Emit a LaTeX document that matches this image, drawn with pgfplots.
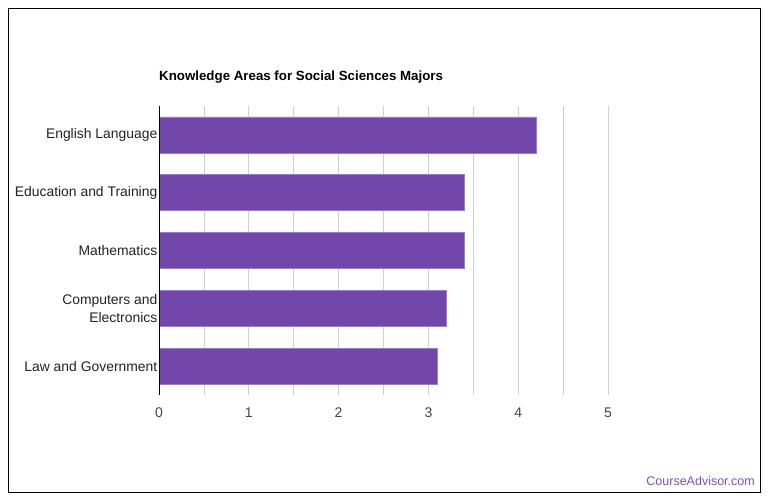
\documentclass[border=0pt]{standalone}
\usepackage{fontspec}
\setmainfont{Liberation Sans}
\usepackage{pgfplots}
\pgfplotsset{compat=1.18}
\definecolor{barfill}{HTML}{7247AB}
\definecolor{baredge}{HTML}{9B7CC6}
\definecolor{gridc}{HTML}{D0D0D0}
\definecolor{labc}{HTML}{222222}
\definecolor{tickc}{HTML}{444444}
\definecolor{brand}{HTML}{7A52B3}
\begin{document}
\begin{tikzpicture}[x=1pt,y=1pt]
\path[use as bounding box] (0,0) rectangle (770,503);
\draw[line width=1pt,black] (8.5,10.5) rectangle (760.5,494.5);
\node[anchor=west,font=\bfseries\fontsize{13.3}{15}\selectfont,inner sep=0pt] at (159,425.5) {Knowledge Areas for Social Sciences Majors};
\node[anchor=east,font=\fontsize{12.5}{14}\selectfont,text=brand,inner sep=0pt] at (755,21.5) {CourseAdvisor.com};
\begin{axis}[
  at={(159pt,108pt)}, anchor=south west,
  scale only axis, width=449pt, height=289pt,
  xmin=0, xmax=5, ymin=-0.5, ymax=4.5,
  y dir=reverse,
  xbar, bar width=36pt,
  xtick={0,1,2,3,4,5},
  minor x tick num=1,
  xmajorgrids, xminorgrids,
  grid style={gridc, line width=0.8pt},
  minor grid style={gridc, line width=0.8pt},
  major tick length=0pt, minor tick length=0pt,
  axis line style={draw=none},
  ytick={0,1,2,3,4},
  yticklabels={English Language, Education and Training, Mathematics, {Computers and\\Electronics}, Law and Government},
  yticklabel style={align=right, font=\fontsize{13.9}{18}\selectfont, text=labc, inner xsep=1.5pt},
  xticklabel style={font=\fontsize{14}{15}\selectfont, text=tickc},
  xticklabel shift=9pt,
  /pgf/number format/assume math mode=true,
  clip=false,
]
\addplot[fill=barfill, draw=baredge, line width=0.6pt] coordinates {(4.2,0) (3.4,1) (3.4,2) (3.2,3) (3.1,4)};
\draw[black, line width=1pt] (axis cs:0,-0.5) -- (axis cs:0,4.5);
\end{axis}
\end{tikzpicture}
\end{document}
